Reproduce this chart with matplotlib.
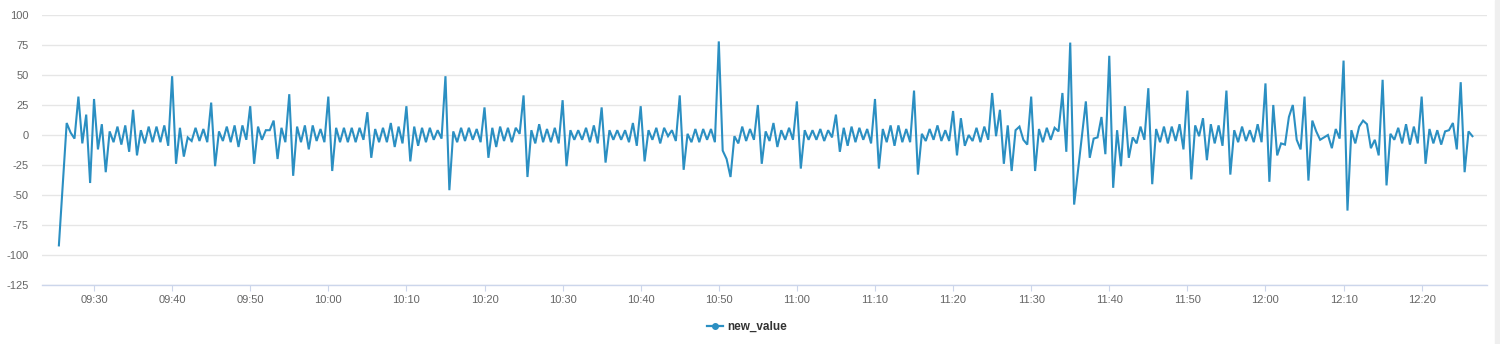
import numpy as np
import pandas as pd
import matplotlib
matplotlib.use("Agg")
import matplotlib.pyplot as plt
import matplotlib.dates as mdates
from matplotlib.lines import Line2D
from matplotlib.patches import Rectangle

plt.rcParams['font.family'] = ['Liberation Sans', 'DejaVu Sans']
plt.rcParams['axes.unicode_minus'] = False

# one reading every 30 s from 09:25:30, None = no reading in that slot
start_time = '2020-01-01 09:25:30'
step = '30s'

seg_a = [-92, None, 10, 2, -3, 32, -7, 17, -40, 30, -12, 9, -31, 3, -6, 7, -8, 8, -14, 21,
         -17, 4, -7, 7, -6, 7, -6, 8, -9, 49, -24, 6, -18, -2, -5, 6, -5, 5, -6, 27,
         -26, 3, -5, 7, -6, 8, -10, 8, -4, 24]
seg_b = [-24, 7, -4, 4, 4, 12, -20, 6, -6, 34, -34, 7, -6, 8, -12, 8, -5, 5, -6, 32,
         -30, 6, -6, 6, -6, 6, -6, 6, -4, 19, -19, 5, -6, 6, -6, 10, -10, 7, -7, 24,
         -22, 7, -9, 6, -6, 6, -4, 4, -3, 49, -46]
seg_c = [3, -6, 6, -5, 6, -4, 5, -6, 23, -19, 6, -10, 7, -5, 6, -6, 6, 1, 33, -35,
         4, -7, 9, -6, 5, -6, 6, -7, 29, -26, 4, -4, 4, -4, 6, -6, 8, -7, 23, -23,
         4, -4, 4, -4, 4, -6, 10, -9, 24, -22, 4]
seg_d = [-4, 6, -7, 6, -1, 4, -5, 33, -29, 1, -6, 5, -6, 5, -4, 5, -6, 78, -13, -20,
         -35, -1, -7, 7, -5, 5, -4, 25, -24, 3, -5, 10, -10, 4, -4, 6, -4, 28, -28, 4,
         -4, 4, -4, 5, -5, 4, -2, 17, -14, 6, -9]
seg_e = [7, -6, 6, -4, 5, -7, 30, -28, 5, -6, 8, -9, 8, -6, 5, -6, 37, -33, 1, -5,
         5, -4, 8, -5, 4, -5, 20, -17, 14, -9, 0, -5, 6, -6, 7, -4, 35, -1, 21, -24,
         8, -30, 4, 7, -4, -8, 32, -30, 5, -6, 6]
seg_f = [-4, 6, 3, 35, -14, 77, -58, None, None, 28, -19, -3, -2, 15, -16, 66, -44, 4, -26, 24,
         -19, -2, -7, 7, -4, 39, -41, 5, -6, 7, -7, 7, -5, 9, -12, 37, -37, 8, -1, 14,
         -21, 9, -7, 8, -9, 37, -33, 4, -6, 7, -5, 4]
seg_g = [-6, 9, -6, 43, -39, 25, -17, -7, -8, 15, 25, -4, -12, 32, -38, 12, 3, -4, -2, 0,
         -11, 5, -3, 62, -63, 4, -7, 7, 12, 9, -11, -4, -17, 46, -42, 1, -4, 6, -7, 9,
         -8, 7, -7, 32, -24, 5, -7, 4, -8, 3, 4, 10, -12, 44, -31, 3, -1]

new_value = seg_a + seg_b + seg_c + seg_d + seg_e + seg_f + seg_g

y_ticks = [-125, -100, -75, -50, -25, 0, 25, 50, 75, 100]
x_tick_start = '2020-01-01 09:30'
x_tick_end = '2020-01-01 12:20'

times = pd.date_range(start_time, periods=len(new_value), freq=step)
s = pd.Series(new_value, index=times, dtype=float).dropna()

line_col = '#2b8fc2'

fig = plt.figure(figsize=(15, 3.44), dpi=100)
ax = fig.add_axes([41.7 / 1500, 59 / 344, (1487 - 41.7) / 1500, 270 / 344])

ax.plot(s.index, s.values, color=line_col, lw=1.5, solid_joinstyle='miter')

ax.set_ylim(-125, 100)
ax.set_yticks(y_ticks)
ax.set_xlim(pd.Timestamp('2020-01-01 09:23:18'), pd.Timestamp('2020-01-01 12:28:22'))
ax.set_xticks(pd.date_range(x_tick_start, x_tick_end, freq='10min'))
ax.xaxis.set_major_formatter(mdates.DateFormatter('%H:%M'))

ax.grid(axis='y', color='#e6e6e6', lw=1)
ax.set_axisbelow(True)
for side in ['top', 'right', 'left']:
    ax.spines[side].set_visible(False)
ax.spines['bottom'].set_color('#ccd6eb')
ax.spines['bottom'].set_linewidth(1)

ax.tick_params(axis='y', length=0, pad=9.5, labelsize=8, labelcolor='#666666')
ax.tick_params(axis='x', length=4, width=0.8, color='#ccd6eb', pad=3,
               labelsize=8, labelcolor='#666666')

handle = Line2D([], [], color=line_col, lw=1.6, marker='o', markersize=4)
fig.legend([handle], ['new_value'], loc='center', bbox_to_anchor=(0.498, 0.049),
           frameon=False, handlelength=1.4, handletextpad=0.4,
           prop={'weight': 'bold', 'size': 8.5}, labelcolor='#333333')

# faint scrollbar strip on the right edge
fig.patches.append(Rectangle((1495 / 1500, 0), 5 / 1500, 1, transform=fig.transFigure,
                             color='#efefef', zorder=0))

fig.savefig('out.png', dpi=100)
